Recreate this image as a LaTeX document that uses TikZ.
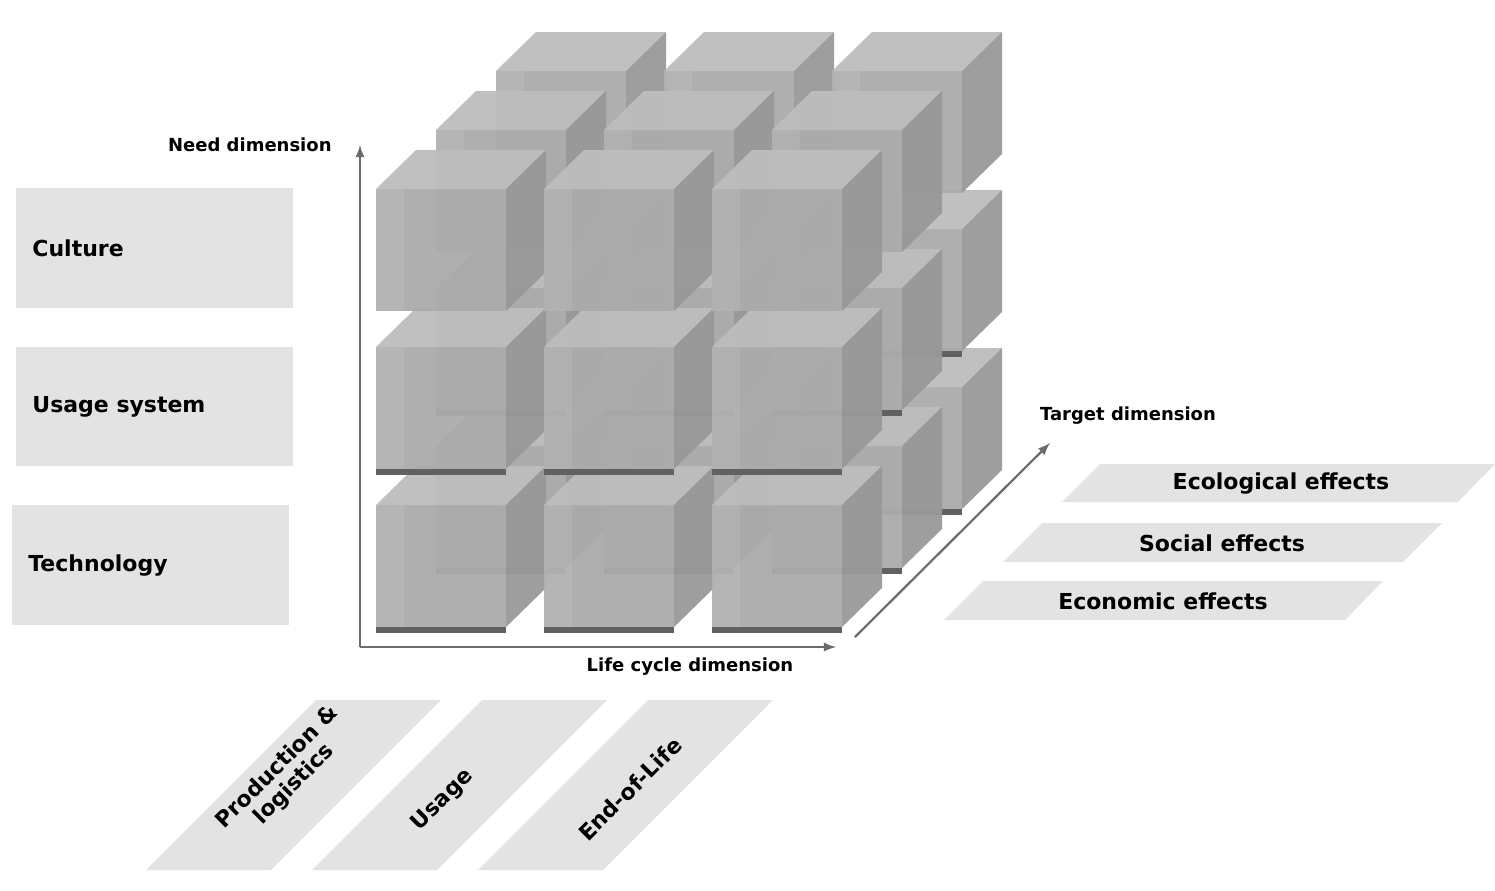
\documentclass[tikz,border=0pt]{standalone}
\usepackage{fontspec}
\setmainfont{DejaVu Sans}
\begin{document}
\begin{tikzpicture}[x=0.5pt,y=-0.5pt,
  lbox/.style={fill=black!11,draw=none},
  ax/.style={draw=black!58,line width=1.1pt,-{latex}},
  axl/.style={font=\bfseries\fontsize{9}{11}\selectfont,inner sep=0pt},
  big/.style={font=\bfseries\fontsize{11}{12}\selectfont,inner sep=0pt}]
\useasboundingbox (0,0) rectangle (1495,890);
% cubes
\foreach \k in {2,1,0}{
 \foreach \r in {0,1,2}{
  \foreach \c in {0,1,2}{
   \pgfmathsetmacro{\X}{376+168*\c+60*\k}
   \pgfmathsetmacro{\Y}{627-158*\r-59*\k}
   \begin{scope}[shift={(\X,\Y)}]
    \ifnum\r<2 \fill[black!62] (0,0) rectangle (130,6);\fi
    \fill[black!33,opacity=0.95] (0,0) rectangle (130,-122);
    \fill[black!26,opacity=0.95] (0,-122) -- (40,-161) -- (170,-161) -- (130,-122) -- cycle;
    \fill[black!40,opacity=0.95] (130,0) -- (170,-39) -- (170,-161) -- (130,-122) -- cycle;
    \fill[white,opacity=0.08] (0,0) rectangle (28,-122);
   \end{scope}
  }}}
% axes
\coordinate (o) at (360,647);
\coordinate (ny) at (360,145);
\coordinate (nx) at (836,647);
\coordinate (t0) at (855,637);
\coordinate (t1) at (1050,443);
\draw[ax] (o) -- (ny);
\draw[ax] (o) -- (nx);
\draw[ax] (t0) -- (t1);
\node[axl,anchor=east] (nd) at (332,145) {Need dimension};
\node[axl] (ld) at (690,667) {Life cycle dimension};
\node[axl] (td) at (1128,416) {Target dimension};
% left boxes
\fill[lbox] (16,188) rectangle (293,308);
\fill[lbox] (16,347) rectangle (293,466);
\fill[lbox] (12,505) rectangle (289,625);
\node[big,anchor=west] (cu) at (32,248) {Culture};
\node[big,anchor=west] (us) at (32,407) {Usage system};
\node[big,anchor=west] (te) at (28,566) {Technology};
% right parallelograms
\fill[lbox] (1100,464) -- (1495,464) -- (1458,502) -- (1062,502) -- cycle;
\fill[lbox] (1042,523) -- (1442,523) -- (1403,562) -- (1003,562) -- cycle;
\fill[lbox] (983,581) -- (1383,581) -- (1345,620) -- (944,620) -- cycle;
\node[big] (ec) at (1281,484) {Ecological effects};
\node[big] (so) at (1222,543) {Social effects};
\node[big] (eco) at (1163,601) {Economic effects};
% bottom parallelograms
\fill[lbox] (316,700) -- (441,700) -- (271,870) -- (146,870) -- cycle;
\fill[lbox] (482,700) -- (607,700) -- (437,870) -- (312,870) -- cycle;
\fill[lbox] (648,700) -- (773,700) -- (603,870) -- (478,870) -- cycle;
\node[big,rotate=45,align=center] (pl) at (286,776) {Production \&\\logistics};
\node[big,rotate=45] (ug) at (443,800) {Usage};
\node[big,rotate=45] (el) at (630,789) {End-of-Life};
\end{tikzpicture}
\end{document}
